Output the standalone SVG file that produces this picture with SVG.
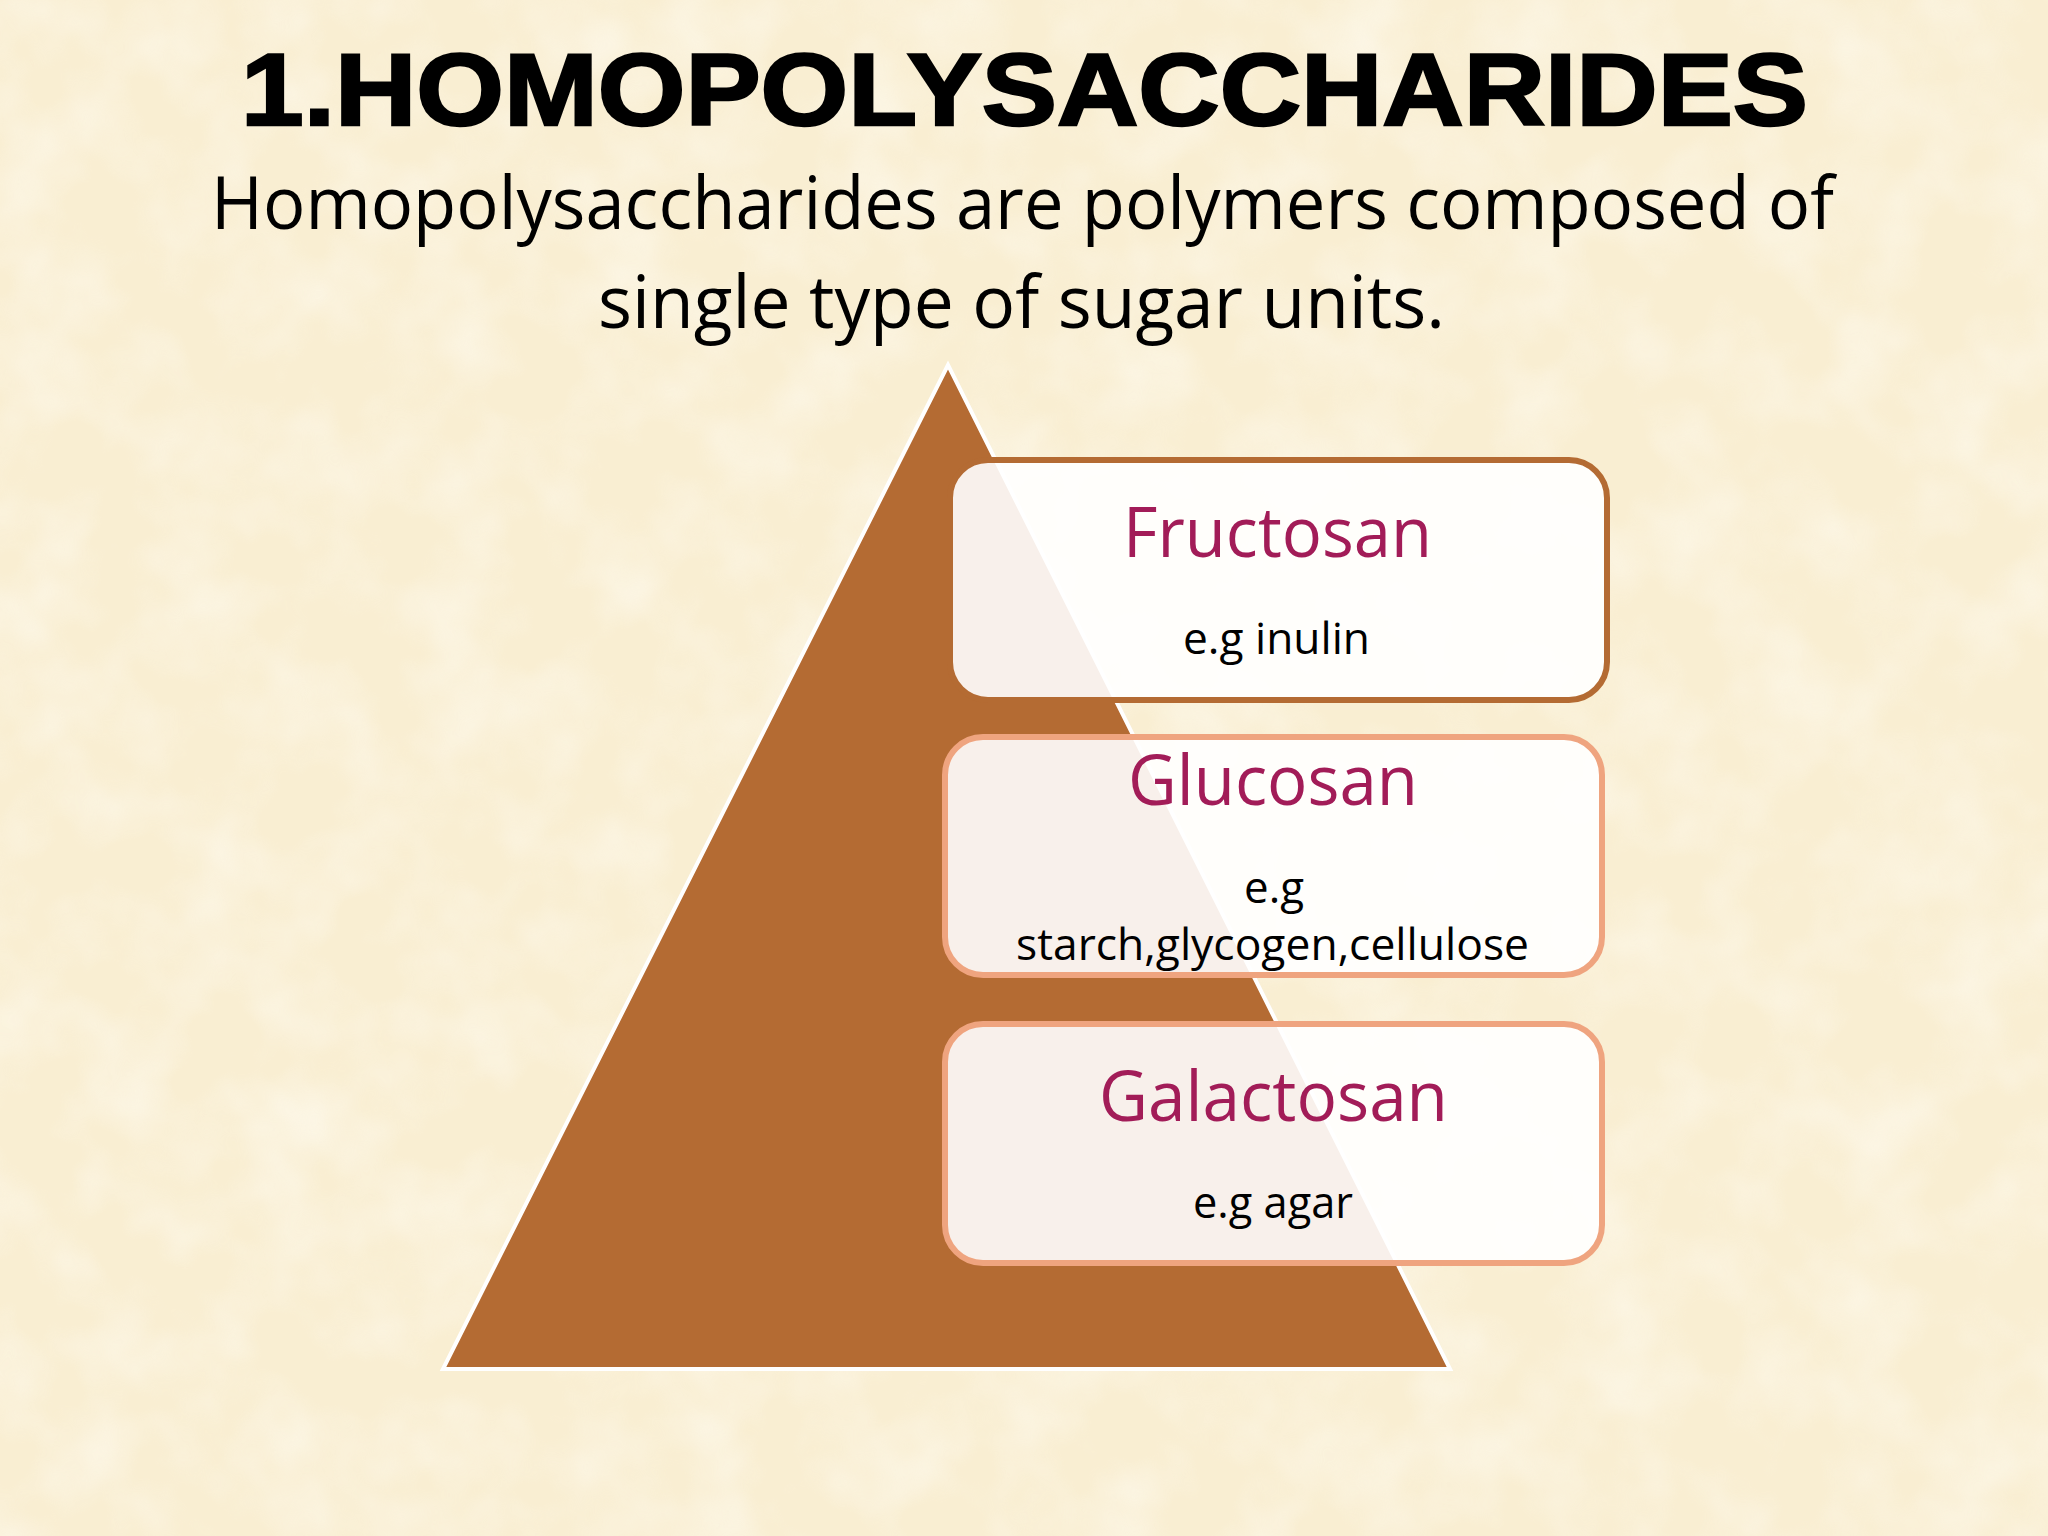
<svg xmlns="http://www.w3.org/2000/svg" width="2048" height="1536" viewBox="0 0 2048 1536">
<style>
.title{font-family:"Liberation Sans",Arial,sans-serif;font-weight:bold;font-size:102px;fill:#000;stroke:#000;stroke-width:2.5px}
.sub{font-family:"Open Sans","Noto Sans",sans-serif;font-size:73px;fill:#000}
.head{font-family:"Open Sans","Noto Sans",sans-serif;font-size:69px;fill:#A21C58}
.ex{font-family:"Open Sans","Noto Sans",sans-serif;font-size:44px;fill:#000}
.box{fill:#FFFFFF;fill-opacity:0.9;stroke-width:6}
.b1{stroke:#B46B33}
.b2{stroke:#EFA47F}
</style>
<defs>
<filter id="paper" x="0" y="0" width="100%" height="100%">
<feTurbulence type="fractalNoise" baseFrequency="0.012" numOctaves="3" seed="7"/>
<feColorMatrix type="matrix" values="0 0 0 0 1  0 0 0 0 0.99  0 0 0 0 0.94  1.3 0 0 0 -0.5"/>
</filter>
</defs>
<rect x="0" y="0" width="2048" height="1536" fill="#F9EED2"/>
<rect x="0" y="0" width="2048" height="1536" filter="url(#paper)" opacity="0.7"/>
<text class="title" x="241" y="125" textLength="1567" lengthAdjust="spacingAndGlyphs">1.HOMOPOLYSACCHARIDES</text>
<text class="sub" x="211" y="229" textLength="1623" lengthAdjust="spacingAndGlyphs">Homopolysaccharides are polymers composed of</text>
<text class="sub" x="598" y="328" textLength="847" lengthAdjust="spacingAndGlyphs">single type of sugar units.</text>
<g id="pyramid">
<polygon points="948,365 443,1369 1450,1369" fill="#B46B33" stroke="#FFFFFF" stroke-width="4" stroke-linejoin="miter"/>
</g>
<g id="connectors"></g>
<g id="fructosan">
<rect class="box b1" x="950" y="460" width="657" height="240" rx="38" ry="38"/>
<text class="head" x="1123" y="557" textLength="309" lengthAdjust="spacingAndGlyphs">Fructosan</text>
<text class="ex" x="1183" y="654" textLength="187" lengthAdjust="spacingAndGlyphs">e.g inulin</text>
</g>
<g id="glucosan">
<rect class="box b2" x="945" y="737" width="657" height="238" rx="38" ry="38"/>
<text class="head" x="1128" y="805" textLength="290" lengthAdjust="spacingAndGlyphs">Glucosan</text>
<text class="ex" x="1244" y="903" textLength="60" lengthAdjust="spacingAndGlyphs">e.g</text>
<text class="ex" x="1016" y="960" textLength="513" lengthAdjust="spacingAndGlyphs">starch,glycogen,cellulose</text>
</g>
<g id="galactosan">
<rect class="box b2" x="945" y="1024" width="657" height="239" rx="38" ry="38"/>
<text class="head" x="1099" y="1121" textLength="349" lengthAdjust="spacingAndGlyphs">Galactosan</text>
<text class="ex" x="1193" y="1218" textLength="160" lengthAdjust="spacingAndGlyphs">e.g agar</text>
</g>
</svg>
